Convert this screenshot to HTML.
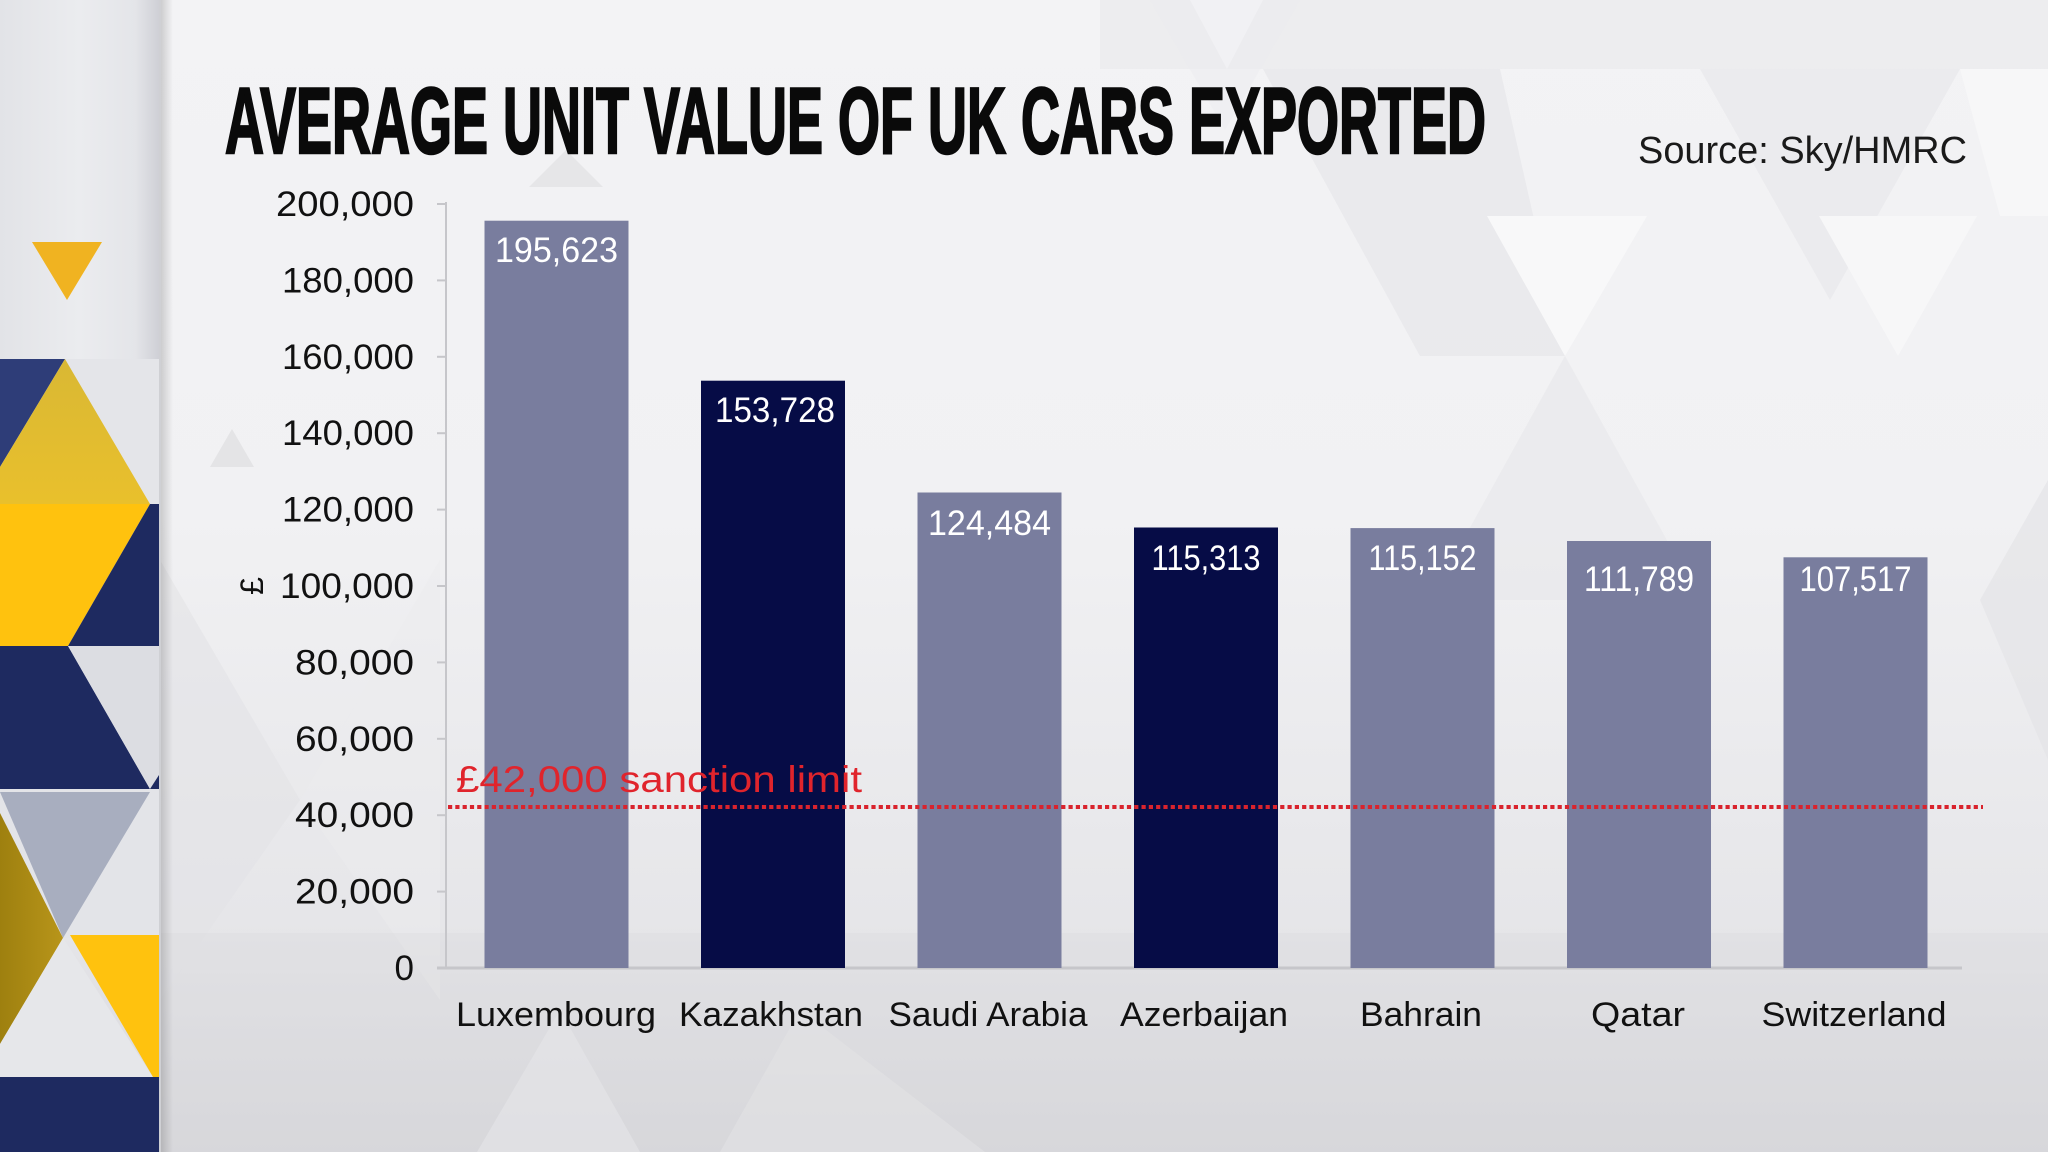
<!DOCTYPE html>
<html><head><meta charset="utf-8">
<style>
html,body{margin:0;padding:0;width:2048px;height:1152px;overflow:hidden;background:#f2f2f4;}
svg{display:block;}
</style></head>
<body>
<svg width="2048" height="1152" viewBox="0 0 2048 1152" xmlns="http://www.w3.org/2000/svg">
<defs>
<linearGradient id="bg" x1="0" y1="0" x2="0" y2="1">
<stop offset="0" stop-color="#f3f3f5"/>
<stop offset="0.45" stop-color="#f1f1f3"/>
<stop offset="0.8" stop-color="#e6e6e9"/>
<stop offset="1" stop-color="#d6d6da"/>
</linearGradient>
<linearGradient id="sbtop" x1="0" y1="0" x2="1" y2="0">
<stop offset="0" stop-color="#e2e3e7"/>
<stop offset="0.5" stop-color="#ebecef"/>
<stop offset="0.85" stop-color="#e4e5e9"/>
<stop offset="1" stop-color="#cfd0d6"/>
</linearGradient>
<linearGradient id="shadow" x1="0" y1="0" x2="1" y2="0">
<stop offset="0" stop-color="#000" stop-opacity="0.18"/>
<stop offset="1" stop-color="#000" stop-opacity="0"/>
</linearGradient>
<linearGradient id="yel1" x1="0" y1="0" x2="0" y2="1">
<stop offset="0" stop-color="#d9b834"/>
<stop offset="1" stop-color="#e9c02c"/>
</linearGradient>
<linearGradient id="gold" x1="0" y1="0" x2="1" y2="0">
<stop offset="0" stop-color="#9e800f"/>
<stop offset="1" stop-color="#b8951a"/>
</linearGradient>
</defs>

<!-- main background -->
<rect x="0" y="0" width="2048" height="1152" fill="url(#bg)"/>
<!-- subtle background triangles -->
<g>
<rect x="1100" y="0" width="948" height="69" fill="#e9e9ec" opacity="0.7"/>
<polygon points="1190,0 1263,0 1227,69" fill="#f7f7f8"/>
<polygon points="1263,69 1500,69 1565,356 1420,356" fill="#e4e4e7" opacity="0.6"/>
<polygon points="1487,216 1647,216 1565,356" fill="#f8f8f9"/>
<polygon points="1700,69 1960,69 1830,300" fill="#e6e6e9" opacity="0.6"/>
<polygon points="1819,216 1977,216 1898,356" fill="#f7f7f8"/>
<polygon points="1960,69 2048,69 2048,216 2000,216" fill="#f7f7f8"/>
<polygon points="1565,356 1700,600 1430,600" fill="#e8e8eb" opacity="0.7"/>
<polygon points="1980,600 2048,480 2048,760" fill="#e4e4e7" opacity="0.7"/>
<polygon points="529,187 566,150 603,187" fill="#e6e6e8"/>
<polygon points="210,467 232,429 254,467" fill="#e4e4e6"/>
<polygon points="1150,0 1300,0 1225,130" fill="#ececef" opacity="0.5"/>
<polygon points="160,560 300,800 160,1000" fill="#e3e3e6" opacity="0.6"/>
<polygon points="300,800 440,560 440,1000" fill="#ebebee" opacity="0.5"/>
<rect x="159" y="933" width="1889" height="219" fill="#d9d9dd" opacity="0.35"/>
<polygon points="477,1152 560,1010 640,1152" fill="#e4e4e7" opacity="0.7"/>
<polygon points="720,1152 800,1010 985,1152" fill="#e2e2e5" opacity="0.6"/>
</g>

<!-- sidebar -->
<g>
<rect x="0" y="0" width="159" height="359" fill="url(#sbtop)"/>
<polygon points="32,242 102,242 67,300" fill="#f0b321"/>
<!-- band 359-504 -->
<rect x="0" y="359" width="159" height="145" fill="#e4e5e9"/>
<polygon points="0,359 65,359 0,467" fill="#2e3d78"/>
<polygon points="65,359 150,504 0,504 0,467" fill="url(#yel1)"/>
<!-- band 504-646 -->
<polygon points="0,504 150,504 68,646 0,646" fill="#ffc20e"/>
<polygon points="150,504 159,504 159,646 68,646" fill="#1e2a60"/>
<!-- band 646-792 -->
<polygon points="0,646 68,646 150,789 0,789" fill="#1e2a60"/>
<polygon points="68,646 159,646 159,792 150,789" fill="#dcdde2"/>
<polygon points="150,789 159,775 159,805" fill="#1e2a60"/>
<!-- band 792-938 -->
<rect x="0" y="789" width="159" height="149" fill="#e3e4e8"/>
<polygon points="0,792 150,792 63,938" fill="#a8aebf"/>
<polygon points="0,813 63,938 0,1044" fill="url(#gold)"/>
<!-- band 938-1077 -->
<polygon points="0,1044 63,938 153,1077 0,1077" fill="#e6e7ea"/>
<polygon points="70,935 159,935 159,1077 153,1077" fill="#ffc20e"/>
<rect x="0" y="1077" width="159" height="75" fill="#1e2a60"/>
</g>
<rect x="159" y="0" width="14" height="1152" fill="url(#shadow)"/>
<rect x="159" y="0" width="2" height="1152" fill="#cfd0d4"/>

<!-- title -->
<text x="225" y="153" font-family="Liberation Sans, sans-serif" font-weight="bold" font-size="94" fill="#0a0a0a" stroke="#0a0a0a" stroke-width="2.5" textLength="1261" lengthAdjust="spacingAndGlyphs">AVERAGE UNIT VALUE OF UK CARS EXPORTED</text>
<text x="1638" y="163" font-family="Liberation Sans, sans-serif" font-size="38" fill="#1a1a1a" textLength="329" lengthAdjust="spacingAndGlyphs">Source: Sky/HMRC</text>

<!-- axes -->
<g stroke="#c6c6ca" stroke-width="2">
<line x1="446" y1="202" x2="446" y2="968"/>
<line x1="437" y1="968" x2="1962" y2="968" stroke-width="3"/>
<line x1="437" y1="204" x2="446" y2="204"/>
<line x1="437" y1="280.4" x2="446" y2="280.4"/>
<line x1="437" y1="356.8" x2="446" y2="356.8"/>
<line x1="437" y1="433.2" x2="446" y2="433.2"/>
<line x1="437" y1="509.6" x2="446" y2="509.6"/>
<line x1="437" y1="586" x2="446" y2="586"/>
<line x1="437" y1="662.4" x2="446" y2="662.4"/>
<line x1="437" y1="738.8" x2="446" y2="738.8"/>
<line x1="437" y1="815.2" x2="446" y2="815.2"/>
<line x1="437" y1="891.6" x2="446" y2="891.6"/>
</g>

<!-- tick labels -->
<g font-family="Liberation Sans, sans-serif" font-size="35" fill="#111" text-anchor="end">
<text x="414" y="216" textLength="138" lengthAdjust="spacingAndGlyphs">200,000</text>
<text x="414" y="292.4" textLength="132" lengthAdjust="spacingAndGlyphs">180,000</text>
<text x="414" y="368.8" textLength="132" lengthAdjust="spacingAndGlyphs">160,000</text>
<text x="414" y="445.2" textLength="132" lengthAdjust="spacingAndGlyphs">140,000</text>
<text x="414" y="521.6" textLength="132" lengthAdjust="spacingAndGlyphs">120,000</text>
<text x="414" y="598" textLength="134" lengthAdjust="spacingAndGlyphs">100,000</text>
<text x="414" y="674.4" textLength="119" lengthAdjust="spacingAndGlyphs">80,000</text>
<text x="414" y="750.8" textLength="119" lengthAdjust="spacingAndGlyphs">60,000</text>
<text x="414" y="827.2" textLength="119" lengthAdjust="spacingAndGlyphs">40,000</text>
<text x="414" y="903.6" textLength="119" lengthAdjust="spacingAndGlyphs">20,000</text>
<text x="414" y="980">0</text>
</g>
<text transform="translate(252,586) rotate(-90)" x="0" y="11" text-anchor="middle" font-family="Liberation Sans, sans-serif" font-size="32" fill="#111">£</text>

<!-- bars -->
<g>
<rect x="484.5" y="220.7" width="144" height="747.3" fill="#797d9e"/>
<rect x="701" y="380.7" width="144" height="587.3" fill="#060c46"/>
<rect x="917.5" y="492.5" width="144" height="475.5" fill="#797d9e"/>
<rect x="1134" y="527.5" width="144" height="440.5" fill="#060c46"/>
<rect x="1350.5" y="528.1" width="144" height="439.9" fill="#797d9e"/>
<rect x="1567" y="541" width="144" height="427" fill="#797d9e"/>
<rect x="1783.5" y="557.3" width="144" height="410.7" fill="#797d9e"/>
</g>

<!-- value labels -->
<g font-family="Liberation Sans, sans-serif" font-size="35" fill="#ffffff" text-anchor="middle">
<text x="556.5" y="262" textLength="123" lengthAdjust="spacingAndGlyphs">195,623</text>
<text x="775" y="422" textLength="120" lengthAdjust="spacingAndGlyphs">153,728</text>
<text x="989.5" y="535" textLength="123" lengthAdjust="spacingAndGlyphs">124,484</text>
<text x="1206" y="570" textLength="109" lengthAdjust="spacingAndGlyphs">115,313</text>
<text x="1422.5" y="570" textLength="108" lengthAdjust="spacingAndGlyphs">115,152</text>
<text x="1639" y="591" textLength="110" lengthAdjust="spacingAndGlyphs">111,789</text>
<text x="1855.5" y="591" textLength="112" lengthAdjust="spacingAndGlyphs">107,517</text>
</g>

<!-- category labels -->
<g font-family="Liberation Sans, sans-serif" font-size="34" fill="#111" text-anchor="middle">
<text x="556" y="1026" textLength="200" lengthAdjust="spacingAndGlyphs">Luxembourg</text>
<text x="771" y="1026" textLength="184" lengthAdjust="spacingAndGlyphs">Kazakhstan</text>
<text x="988" y="1026" textLength="199" lengthAdjust="spacingAndGlyphs">Saudi Arabia</text>
<text x="1204" y="1026" textLength="168" lengthAdjust="spacingAndGlyphs">Azerbaijan</text>
<text x="1421" y="1026" textLength="122" lengthAdjust="spacingAndGlyphs">Bahrain</text>
<text x="1638" y="1026" textLength="94" lengthAdjust="spacingAndGlyphs">Qatar</text>
<text x="1854" y="1026" textLength="185" lengthAdjust="spacingAndGlyphs">Switzerland</text>
</g>

<!-- sanction line -->
<line x1="448" y1="807" x2="1983" y2="807" stroke="#d9232d" stroke-width="4" stroke-dasharray="4.2 3.1"/>
<text x="456" y="792" font-family="Liberation Sans, sans-serif" font-size="37" fill="#e0242c" textLength="406" lengthAdjust="spacingAndGlyphs">£42,000 sanction limit</text>
</svg>
</body></html>
